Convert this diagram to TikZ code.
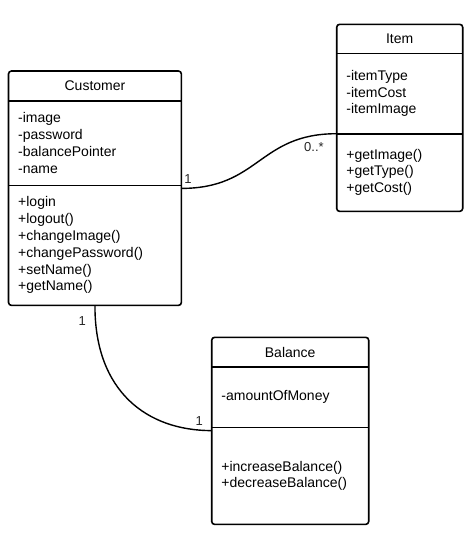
\documentclass[tikz,border=0pt]{standalone}
\usepackage{fontspec}
\setmainfont{Liberation Sans}
\usetikzlibrary{fit}
\begin{document}
\begin{tikzpicture}[x=1pt,y=-1pt,
  boxline/.style={line width=1.6pt, draw=black},
  outerbox/.style={boxline, rounded corners=3pt, inner sep=0pt, fit=#1},
  titlecomp/.style={anchor=north west, inner sep=0pt, align=center, font=\fontsize{14}{16.8}\selectfont},
  comp/.style={anchor=north west, inner xsep=9.5pt, inner ysep=0pt, align=left, font=\fontsize{14}{16.8}\selectfont},
  conn/.style={line width=1.4pt, draw=black},
  mult/.style={font=\fontsize{13}{15}\selectfont, text=black!85, inner sep=0pt}
]
\useasboundingbox (0,0) rectangle (474,542);
% Customer
\node[titlecomp, text width=172.5pt, minimum height=29.7pt] (custtitle) at (8.5,71) {Customer};
\node[comp, text width=153.5pt, minimum height=84.3pt] (custattr) at (8.5,100.7) {-image\\-password\\-balancePointer\\-name};
\node[comp, text width=153.5pt, minimum height=120pt] (custmeth) at (8.5,185) {+login\\+logout()\\+changeImage()\\+changePassword()\\+setName()\\+getName()};
\node[outerbox={(custtitle)(custmeth)}] (cust) {};
\draw[boxline] (custattr.north west) -- (custattr.north east);
\draw[boxline] (custattr.south west) -- (custattr.south east);
% Item
\node[titlecomp, text width=125.6pt, minimum height=29pt] (itemtitle) at (336.7,24.3) {Item};
\node[comp, text width=106.6pt, minimum height=80pt] (itemattr) at (336.7,53.3) {-itemType\\-itemCost\\-itemImage};
\node[comp, text width=106.6pt, minimum height=77.7pt] (itemmeth) at (336.7,133.3) {+getImage()\\+getType()\\+getCost()};
\node[outerbox={(itemtitle)(itemmeth)}] (item) {};
\draw[boxline] (itemattr.north west) -- (itemattr.north east);
\draw[boxline] (itemattr.south west) -- (itemattr.south east);
% Balance
\node[titlecomp, text width=156.6pt, minimum height=29.4pt] (baltitle) at (211.7,337.3) {Balance};
\node[comp, text width=137.6pt, minimum height=60.5pt] (balattr) at (211.7,366.7) {-amountOfMoney};
\node[comp, text width=137.6pt, minimum height=96.8pt] (balmeth) at (211.7,427.2) {+increaseBalance()\\+decreaseBalance()};
\node[outerbox={(baltitle)(balmeth)}] (bal) {};
\draw[boxline] (balattr.north west) -- (balattr.north east);
\draw[boxline] (balattr.south west) -- (balattr.south east);
% Connectors
\draw[conn] ([yshift=-3pt]custattr.south east) .. controls +(78,0) and +(-78,0) .. (itemattr.south west);
\draw[conn] (cust.south) .. controls +(0,85) and +(-65,0) .. ([yshift=-3pt]balattr.south west);
% Multiplicities
\node[mult] (m1) at (188,179) {1};
\node[mult] (m2) at (314,147.5) {0..*};
\node[mult] (m3) at (82.3,321) {1};
\node[mult] (m4) at (199.3,421) {1};
\end{tikzpicture}
\end{document}
